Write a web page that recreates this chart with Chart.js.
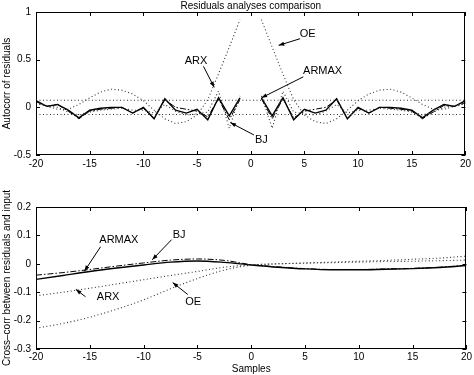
<!DOCTYPE html>
<html>
<head>
<meta charset="utf-8">
<script src="https://cdn.jsdelivr.net/npm/chart.js"></script>
<style>
  body { margin: 0; background: #fff; }
  canvas { position: absolute; left: 0; }
  #topChart { top: 0; }
  #bottomChart { top: 185px; }
</style>
</head>
<body>
<canvas id="topChart" width="474" height="185"></canvas>
<canvas id="bottomChart" width="474" height="190"></canvas>
<script>
// top plot: autocorrelation of residuals, lags -20..20 (lag 0 left out)
const lags = [-20,-19,-18,-17,-16,-15,-14,-13,-12,-11,-10,-9,-8,-7,-6,-5,-4,-3,-2,-1,0,
              1,2,3,4,5,6,7,8,9,10,11,12,13,14,15,16,17,18,19,20];
const armaxAuto = [0.07,0.01,0.03,-0.03,-0.11,-0.03,-0.01,0,0,-0.06,0,-0.12,0.09,-0.03,-0.06,-0.02,-0.13,0.1,-0.09,0.1,null,
                   0.1,-0.09,0.1,-0.13,-0.02,-0.06,-0.03,0.09,-0.12,0,-0.06,0,0,-0.01,-0.03,-0.11,-0.03,0.03,0.01,0.07];
const bjAuto = [0.06,0.01,0.03,-0.04,-0.12,-0.04,-0.02,-0.01,0,-0.06,-0.01,-0.12,0.08,0,-0.02,-0.04,-0.1,0.09,-0.13,0.08,null,
                0.09,-0.12,0.09,-0.11,-0.04,-0.02,0,0.08,-0.12,-0.01,-0.06,0,-0.01,-0.02,-0.04,-0.12,-0.05,0.02,0.01,0.05];
const arxAuto = [0.04,0.02,0,-0.05,-0.08,-0.05,-0.03,-0.02,-0.01,-0.03,-0.03,-0.06,0.03,-0.04,-0.08,-0.07,-0.05,0.17,-0.22,0.12,null,
                 0.12,-0.22,0.17,-0.05,-0.07,-0.08,-0.04,0.03,-0.06,-0.03,-0.03,-0.01,-0.02,-0.03,-0.05,-0.08,-0.05,0,0.02,0.04];
const oeAuto = [0.04,0.01,-0.02,-0.02,0.03,0.1,0.16,0.19,0.18,0.14,0.07,-0.03,-0.12,-0.17,-0.15,-0.08,0.08,0.35,0.63,0.92,null,
                0.92,0.63,0.35,0.08,-0.08,-0.15,-0.17,-0.12,-0.03,0.07,0.14,0.18,0.19,0.16,0.1,0.03,-0.02,-0.02,0.01,0.04];
const confBound = [0.075, -0.075];
const topTicksY = [-0.5, 0, 0.5, 1];

// bottom plot: cross-correlation between residuals and input
const lagsB = [-20,-17.5,-15,-12.5,-10,-7.5,-5,-2.5,0,2.5,5,7.5,10,12.5,15,17.5,20];
const armaxCross = [-0.055,-0.041,-0.027,-0.015,-0.004,0.006,0.01,0.005,-0.004,-0.012,-0.018,-0.021,-0.021,-0.019,-0.017,-0.013,-0.006];
const bjCross = [-0.04,-0.031,-0.02,-0.008,0.003,0.013,0.017,0.012,-0.003,-0.011,-0.017,-0.02,-0.02,-0.018,-0.016,-0.012,-0.005];
const arxCross = [-0.113,-0.1,-0.086,-0.071,-0.056,-0.041,-0.027,-0.012,-0.004,0,0.003,0.006,0.009,0.012,0.016,0.02,0.027];
const oeCross = [-0.227,-0.21,-0.188,-0.16,-0.127,-0.088,-0.052,-0.022,-0.005,0,0.002,0.004,0.006,0.008,0.009,0.011,0.013];

// labels with arrows, in data units
const topNotes = [
    { text: 'OE', tx: 5.3, ty: 0.77, x0: 4.6, y0: 0.72, x1: 2.6, y1: 0.65 },
    { text: 'ARX', tx: -5.1, ty: 0.49, x0: -4.4, y0: 0.43, x1: -3.4, y1: 0.21 },
    { text: 'ARMAX', tx: 6.7, ty: 0.385, x0: 4.9, y0: 0.32, x1: 1.0, y1: 0.1 },
    { text: 'BJ', tx: 1.0, ty: -0.34, x0: 0.3, y0: -0.29, x1: -1.9, y1: -0.16 }
];
const bottomNotes = [
    { text: 'ARMAX', tx: -12.3, ty: 0.085, x0: -14.0, y0: 0.06, x1: -15.5, y1: -0.026 },
    { text: 'BJ', tx: -6.7, ty: 0.1, x0: -7.4, y0: 0.085, x1: -9.2, y1: 0.014 },
    { text: 'ARX', tx: -13.3, ty: -0.116, x0: -15.4, y0: -0.116, x1: -16.3, y1: -0.09 },
    { text: 'OE', tx: -5.4, ty: -0.136, x0: -5.9, y0: -0.108, x1: -7.3, y1: -0.066 }
];

const FONT = 'Liberation Sans, Arial, sans-serif';
Chart.defaults.font.family = FONT;
Chart.defaults.font.size = 10;
Chart.defaults.color = '#000';

function pts(xs, ys) {
    return xs.map((x, i) => ({ x: x, y: ys[i] }));
}

// plain numbers like matlab: 1, 0.5, 0, -0.5
function plainTick(v) {
    return String(Math.round(v * 100) / 100);
}

function arrow(ctx, x0, y0, x1, y1) {
    ctx.beginPath();
    ctx.moveTo(x0, y0);
    ctx.lineTo(x1, y1);
    ctx.stroke();
    const a = Math.atan2(y1 - y0, x1 - x0);
    ctx.beginPath();
    ctx.moveTo(x1, y1);
    ctx.lineTo(x1 - 6 * Math.cos(a - 0.35), y1 - 6 * Math.sin(a - 0.35));
    ctx.lineTo(x1 - 6 * Math.cos(a + 0.35), y1 - 6 * Math.sin(a + 0.35));
    ctx.closePath();
    ctx.fill();
}

// box, inward ticks on all sides, title and arrow labels
const matlabFrame = {
    id: 'matlabFrame',
    afterDraw(chart, args, opts) {
        const ctx = chart.ctx;
        const a = chart.chartArea;
        const x = chart.scales.x, y = chart.scales.y;
        ctx.save();
        ctx.strokeStyle = '#000';
        ctx.fillStyle = '#000';
        ctx.lineWidth = 1;
        ctx.strokeRect(Math.round(a.left) + 0.5, Math.round(a.top) + 0.5,
                       Math.round(a.right - a.left) - 1, Math.round(a.bottom - a.top) - 1);
        ctx.beginPath();
        x.ticks.forEach(t => {
            const px = Math.round(x.getPixelForValue(t.value)) + 0.5;
            ctx.moveTo(px, a.bottom); ctx.lineTo(px, a.bottom - 4);
            ctx.moveTo(px, a.top); ctx.lineTo(px, a.top + 4);
        });
        y.ticks.forEach(t => {
            const py = Math.round(y.getPixelForValue(t.value)) + 0.5;
            ctx.moveTo(a.left, py); ctx.lineTo(a.left + 4, py);
            ctx.moveTo(a.right, py); ctx.lineTo(a.right - 4, py);
        });
        ctx.stroke();

        ctx.font = '10px ' + FONT;
        ctx.textAlign = 'center';
        ctx.textBaseline = 'middle';
        if (opts.title) {
            ctx.fillText(opts.title, (a.left + a.right) / 2, 6);
        }
        (opts.notes || []).forEach(n => {
            ctx.font = '11px ' + FONT;
            ctx.fillText(n.text, x.getPixelForValue(n.tx), y.getPixelForValue(n.ty));
            arrow(ctx, x.getPixelForValue(n.x0), y.getPixelForValue(n.y0),
                  x.getPixelForValue(n.x1), y.getPixelForValue(n.y1));
        });
        ctx.restore();
    }
};

function lineSet(label, data, style) {
    return Object.assign({
        label: label,
        data: data,
        borderColor: '#000',
        borderWidth: 1,
        pointRadius: 0,
        fill: false,
        spanGaps: false
    }, style);
}

const dotted = { borderDash: [1, 2.5], borderColor: '#333', borderWidth: 1.1 };
const dashDot = { borderDash: [6, 2, 1.5, 2], borderWidth: 1 };
const solid = { borderWidth: 1.4 };

const topChart = new Chart(document.getElementById('topChart'), {
    type: 'line',
    data: {
        datasets: [
            lineSet('upper bound', pts([-20, 20], [confBound[0], confBound[0]]), dotted),
            lineSet('lower bound', pts([-20, 20], [confBound[1], confBound[1]]), dotted),
            lineSet('OE', pts(lags, oeAuto), dotted),
            lineSet('ARX', pts(lags, arxAuto), dotted),
            lineSet('BJ', pts(lags, bjAuto), dashDot),
            lineSet('ARMAX', pts(lags, armaxAuto), solid)
        ]
    },
    options: {
        responsive: false,
        animation: false,
        layout: { padding: { left: 0, right: 5, top: 12, bottom: 0 } },
        plugins: {
            legend: { display: false },
            tooltip: { enabled: false },
            matlabFrame: { title: 'Residuals analyses comparison', notes: topNotes }
        },
        scales: {
            x: {
                type: 'linear', min: -20, max: 20,
                ticks: { stepSize: 5, padding: 3, maxRotation: 0, callback: plainTick },
                grid: { display: false, drawTicks: false },
                border: { display: false },
                afterFit(scale) { scale.height = 30; }
            },
            y: {
                min: -0.5, max: 1,
                afterBuildTicks(scale) { scale.ticks = topTicksY.map(v => ({ value: v })); },
                ticks: { padding: 5, callback: plainTick },
                grid: { display: false, drawTicks: false },
                border: { display: false },
                title: { display: true, text: 'Autocorr of residuals', padding: { top: 1, bottom: 0 }, font: { size: 10 } },
                afterFit(scale) { scale.width = 36; }
            }
        }
    },
    plugins: [matlabFrame]
});

const bottomChart = new Chart(document.getElementById('bottomChart'), {
    type: 'line',
    data: {
        datasets: [
            lineSet('OE', pts(lagsB, oeCross), Object.assign({ cubicInterpolationMode: 'monotone' }, dotted)),
            lineSet('ARX', pts(lagsB, arxCross), Object.assign({ cubicInterpolationMode: 'monotone' }, dotted)),
            lineSet('BJ', pts(lagsB, bjCross), Object.assign({ cubicInterpolationMode: 'monotone' }, dashDot)),
            lineSet('ARMAX', pts(lagsB, armaxCross), Object.assign({ cubicInterpolationMode: 'monotone' }, solid))
        ]
    },
    options: {
        responsive: false,
        animation: false,
        layout: { padding: { left: 0, right: 5, top: 22, bottom: 0 } },
        plugins: {
            legend: { display: false },
            tooltip: { enabled: false },
            matlabFrame: { notes: bottomNotes }
        },
        scales: {
            x: {
                type: 'linear', min: -20, max: 20,
                ticks: { stepSize: 5, padding: 2, maxRotation: 0, callback: plainTick },
                grid: { display: false, drawTicks: false },
                border: { display: false },
                title: { display: true, text: 'Samples', padding: 0, font: { size: 10 } },
                afterFit(scale) { scale.height = 26; }
            },
            y: {
                min: -0.3, max: 0.2,
                ticks: { stepSize: 0.1, padding: 5, callback: plainTick },
                grid: { display: false, drawTicks: false },
                border: { display: false },
                title: { display: true, text: 'Cross–corr between residuals and input', padding: { top: 1, bottom: 0 }, font: { size: 10 } },
                afterFit(scale) { scale.width = 36; }
            }
        }
    },
    plugins: [matlabFrame]
});
</script>
</body>
</html>
